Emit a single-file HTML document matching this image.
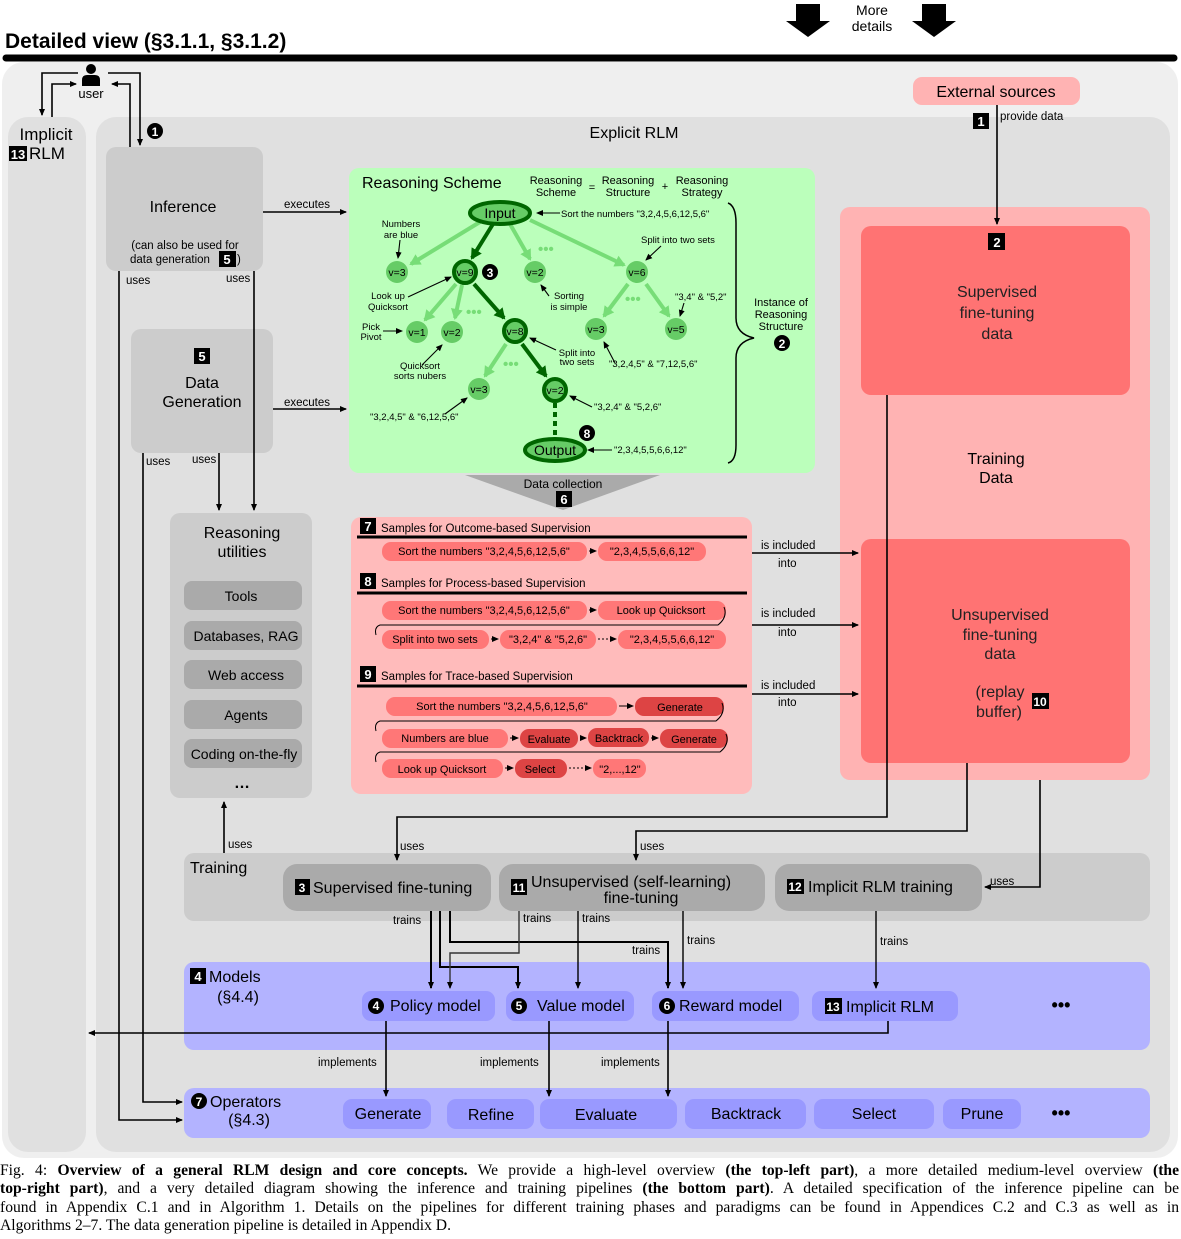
<!DOCTYPE html>
<html><head><meta charset="utf-8"><style>
body{margin:0;width:1181px;height:1239px;background:#fff;overflow:hidden;position:relative;font-family:"Liberation Sans",sans-serif}
svg{position:absolute;left:0;top:0}
.cap{position:absolute;left:0;top:1162px;width:1179px;font-family:"Liberation Serif",serif;font-size:15.6px;line-height:18.3px;color:#000}
.cap div{text-align:justify;text-align-last:justify;white-space:nowrap}
.cap div.l{text-align-last:left}
</style></head><body>
<svg width="1181" height="1160" viewBox="0 0 1181 1160" font-family="Liberation Sans, sans-serif">
<defs>
<marker id="a" markerWidth="8" markerHeight="8" refX="6" refY="4" orient="auto" markerUnits="userSpaceOnUse"><path d="M0,1 L7,4 L0,7 Z" fill="#000"/></marker>
<marker id="g" markerWidth="14" markerHeight="14" refX="9" refY="7" orient="auto" markerUnits="userSpaceOnUse"><path d="M0,1 L11,7 L0,13 Z" fill="#77dd77"/></marker>
<marker id="d" markerWidth="14" markerHeight="14" refX="9" refY="7" orient="auto" markerUnits="userSpaceOnUse"><path d="M0,1 L11,7 L0,13 Z" fill="#006600"/></marker>
</defs>
<text x="5" y="48" font-size="21" font-weight="bold">Detailed view (§3.1.1, §3.1.2)</text>
<path d="M796,4h24v17h10l-22,16l-22,-16h10z"/>
<path d="M922,4h24v17h10l-22,16l-22,-16h10z"/>
<text x="872" y="15" font-size="14" text-anchor="middle">More</text>
<text x="872" y="31" font-size="14" text-anchor="middle">details</text>
<rect x="2" y="62" width="1176" height="1096" rx="22" fill="#efefef"/>
<line x1="6" y1="58" x2="1174" y2="58" stroke="#000" stroke-width="7" stroke-linecap="round"/>
<rect x="8" y="117" width="78" height="1035" rx="20" fill="#e0e0e0"/>
<rect x="96" y="117" width="1074" height="1035" rx="20" fill="#e0e0e0"/>
<text x="46" y="140" font-size="17" text-anchor="middle">Implicit</text>
<rect x="9" y="146" width="18" height="15" fill="#000"/><text x="18" y="159" font-size="13" fill="#fff" text-anchor="middle" font-weight="bold">13</text>
<text x="29" y="159" font-size="17">RLM</text>
<text x="634" y="138" font-size="16" text-anchor="middle">Explicit RLM</text>
<circle cx="91" cy="69" r="5"/><path d="M82,86 v-6 q0,-5 5,-5 h8 q5,0 5,5 v6z"/>
<text x="91" y="98" font-size="13" text-anchor="middle">user</text>
<g stroke="#000" stroke-width="1.6" fill="none">
<path d="M78,73 H42 V115" marker-end="url(#a)"/>
<path d="M52,117 V84 H76" marker-end="url(#a)"/>
<path d="M108,73 H140 V145" marker-end="url(#a)"/>
<path d="M130,147 V84 H112" marker-end="url(#a)"/>
</g>
<circle cx="155" cy="131" r="8"/><text x="155" y="136" font-size="12" fill="#fff" text-anchor="middle" font-weight="bold">1</text>
<rect x="106" y="147" width="157" height="124" rx="10" fill="#cccccc"/>
<text x="183" y="212" font-size="16" text-anchor="middle">Inference</text>
<text x="185" y="249" font-size="11.5" text-anchor="middle">(can also be used for</text>
<text x="130" y="263" font-size="11.5">data generation</text>
<rect x="219" y="251" width="17" height="16" fill="#000"/><text x="227" y="264" font-size="13" fill="#fff" text-anchor="middle" font-weight="bold">5</text>
<text x="237" y="263" font-size="11.5">)</text>
<rect x="131" y="329" width="142" height="124" rx="10" fill="#cccccc"/>
<rect x="194" y="348" width="16" height="16" fill="#000"/><text x="202" y="361" font-size="13" fill="#fff" text-anchor="middle" font-weight="bold">5</text>
<text x="202" y="388" font-size="16" text-anchor="middle">Data</text>
<text x="202" y="407" font-size="16" text-anchor="middle">Generation</text>
<rect x="170" y="513" width="142" height="285" rx="10" fill="#cccccc"/>
<text x="242" y="538" font-size="16" text-anchor="middle">Reasoning</text>
<text x="242" y="557" font-size="16" text-anchor="middle">utilities</text>
<g fill="#aaaaaa"><rect x="184" y="581" width="118" height="29" rx="8"/><rect x="184" y="621" width="118" height="29" rx="8"/><rect x="184" y="660" width="118" height="29" rx="8"/><rect x="184" y="700" width="118" height="29" rx="8"/><rect x="184" y="739" width="118" height="29" rx="8"/></g>
<g font-size="14" text-anchor="middle"><text x="241" y="601">Tools</text><text x="246" y="641">Databases, RAG</text><text x="246" y="680">Web access</text><text x="246" y="720">Agents</text><text x="244" y="759">Coding on-the-fly</text></g>
<text x="242" y="788" font-size="16" text-anchor="middle" font-weight="bold">…</text>
<g stroke="#000" stroke-width="1.6" fill="none">
<path d="M263,212 H346" marker-end="url(#a)"/>
<path d="M273,409 H346" marker-end="url(#a)"/>
<path d="M119,271 V1120 H182" marker-end="url(#a)"/>
<path d="M143,453 V1102 H182" marker-end="url(#a)"/>
<path d="M254,271 V510" marker-end="url(#a)"/>
<path d="M219,453 V510" marker-end="url(#a)"/>
<path d="M224,853 V802" marker-end="url(#a)"/>
</g>
<g font-size="11.5"><text x="284" y="208">executes</text><text x="284" y="406">executes</text><text x="126" y="284">uses</text><text x="226" y="282">uses</text><text x="146" y="465">uses</text><text x="192" y="463">uses</text><text x="228" y="848">uses</text></g>
<rect x="349" y="168" width="466" height="305" rx="10" fill="#bbffbb"/>
<text x="362" y="188" font-size="16">Reasoning Scheme</text>
<g font-size="11" text-anchor="middle"><text x="556" y="184">Reasoning</text><text x="556" y="196">Scheme</text><text x="592" y="191">=</text><text x="628" y="184">Reasoning</text><text x="628" y="196">Structure</text><text x="665" y="190">+</text><text x="702" y="184">Reasoning</text><text x="702" y="196">Strategy</text></g>
<g stroke="#77dd77" stroke-width="4" fill="none">
<line x1="480" y1="222" x2="411" y2="264" marker-end="url(#g)"/>
<line x1="510" y1="224" x2="530" y2="259" marker-end="url(#g)"/>
<line x1="530" y1="220" x2="624" y2="265" marker-end="url(#g)"/>
<line x1="456" y1="284" x2="425" y2="320" marker-end="url(#g)"/>
<line x1="462" y1="285" x2="455" y2="318" marker-end="url(#g)"/>
<line x1="628" y1="284" x2="604" y2="316" marker-end="url(#g)"/>
<line x1="646" y1="284" x2="669" y2="316" marker-end="url(#g)"/>
<line x1="506" y1="344" x2="485" y2="376" marker-end="url(#g)"/>
</g>
<g stroke="#006600" stroke-width="4" fill="none">
<line x1="493" y1="224" x2="472" y2="258" marker-end="url(#d)"/>
<line x1="474" y1="284" x2="504" y2="318" marker-end="url(#d)"/>
<line x1="522" y1="344" x2="546" y2="376" marker-end="url(#d)"/>
<line x1="555" y1="403" x2="555" y2="438" stroke-dasharray="5,4"/>
</g>
<g fill="#77dd77" font-size="15" font-weight="bold"><text x="538" y="254">•••</text><text x="625" y="304">•••</text><text x="466" y="317">•••</text><text x="503" y="369">•••</text></g>
<ellipse cx="500" cy="213" rx="30" ry="11" fill="#66cc66" stroke="#006600" stroke-width="4"/>
<text x="500" y="218" font-size="14" text-anchor="middle">Input</text>
<ellipse cx="555" cy="450" rx="30" ry="11" fill="#66cc66" stroke="#006600" stroke-width="4"/>
<text x="555" y="455" font-size="14" text-anchor="middle">Output</text>
<g fill="#66cc66">
<circle cx="397" cy="272" r="11"/><circle cx="535" cy="272" r="11"/><circle cx="637" cy="272" r="11"/><circle cx="417" cy="332" r="11"/><circle cx="452" cy="332" r="11"/><circle cx="596" cy="329" r="11"/><circle cx="676" cy="329" r="11"/><circle cx="479" cy="389" r="11"/>
<circle cx="465" cy="272" r="11" stroke="#006600" stroke-width="4"/><circle cx="515" cy="331" r="11" stroke="#006600" stroke-width="4"/><circle cx="555" cy="390" r="11" stroke="#006600" stroke-width="4"/>
</g>
<g font-size="10.5" text-anchor="middle">
<text x="397" y="276">v=3</text><text x="465" y="276">v=9</text><text x="535" y="276">v=2</text><text x="637" y="276">v=6</text><text x="417" y="336">v=1</text><text x="452" y="336">v=2</text><text x="515" y="335">v=8</text><text x="596" y="333">v=3</text><text x="676" y="333">v=5</text><text x="479" y="393">v=3</text><text x="555" y="394">v=2</text>
</g>
<g font-size="9.5">
<text x="561" y="217">Sort the numbers "3,2,4,5,6,12,5,6"</text>
<text x="401" y="227" text-anchor="middle">Numbers</text><text x="401" y="238" text-anchor="middle">are blue</text>
<text x="388" y="299" text-anchor="middle">Look up</text><text x="388" y="310" text-anchor="middle">Quicksort</text>
<text x="371" y="330" text-anchor="middle">Pick</text><text x="371" y="340" text-anchor="middle">Pivot</text>
<text x="420" y="369" text-anchor="middle">Quicksort</text><text x="420" y="379" text-anchor="middle">sorts nubers</text>
<text x="370" y="420">"3,2,4,5" &amp; "6,12,5,6"</text>
<text x="569" y="299" text-anchor="middle">Sorting</text><text x="569" y="310" text-anchor="middle">is simple</text>
<text x="641" y="243">Split into two sets</text>
<text x="675" y="300">"3,4" &amp; "5,2"</text>
<text x="609" y="367">"3,2,4,5" &amp; "7,12,5,6"</text>
<text x="577" y="356" text-anchor="middle">Split into</text><text x="577" y="365" text-anchor="middle">two sets</text>
<text x="594" y="410">"3,2,4" &amp; "5,2,6"</text>
<text x="614" y="453">"2,3,4,5,5,6,6,12"</text>
</g>
<g stroke="#000" stroke-width="1.1" fill="none">
<line x1="560" y1="213" x2="537" y2="213" marker-end="url(#a)"/>
<line x1="400" y1="240" x2="398" y2="258" marker-end="url(#a)"/>
<line x1="408" y1="297" x2="451" y2="277" marker-end="url(#a)"/>
<line x1="383" y1="331" x2="402" y2="331" marker-end="url(#a)"/>
<line x1="422" y1="365" x2="442" y2="345" marker-end="url(#a)"/>
<line x1="445" y1="414" x2="467" y2="398" marker-end="url(#a)"/>
<line x1="549" y1="296" x2="541" y2="285" marker-end="url(#a)"/>
<line x1="661" y1="246" x2="646" y2="260" marker-end="url(#a)"/>
<line x1="684" y1="303" x2="680" y2="316" marker-end="url(#a)"/>
<line x1="615" y1="363" x2="604" y2="342" marker-end="url(#a)"/>
<line x1="556" y1="350" x2="530" y2="338" marker-end="url(#a)"/>
<line x1="592" y1="407" x2="570" y2="396" marker-end="url(#a)"/>
<line x1="612" y1="450" x2="588" y2="450" marker-end="url(#a)"/>
<path d="M728,203 q8,3 8,20 V318 q0,16 18,20 q-18,4 -18,20 V445 q0,16 -8,18" stroke-width="1.5"/>
</g>
<g font-size="11" text-anchor="middle"><text x="781" y="306">Instance of</text><text x="781" y="318">Reasoning</text><text x="781" y="330">Structure</text></g>
<circle cx="782" cy="343" r="8"/><text x="782" y="348" font-size="12" fill="#fff" text-anchor="middle" font-weight="bold">2</text>
<circle cx="490" cy="272" r="8"/><text x="490" y="277" font-size="12" fill="#fff" text-anchor="middle" font-weight="bold">3</text>
<circle cx="587" cy="433" r="8"/><text x="587" y="438" font-size="12" fill="#fff" text-anchor="middle" font-weight="bold">8</text>
<path d="M465,475 H660 L563,510 Z" fill="#aaaaaa"/>
<text x="563" y="488" font-size="12" text-anchor="middle">Data collection</text>
<rect x="556" y="491" width="16" height="16" fill="#000"/><text x="564" y="504" font-size="13" fill="#fff" text-anchor="middle" font-weight="bold">6</text>
<rect x="840" y="207" width="310" height="573" rx="10" fill="#ffb3b3"/>
<rect x="861" y="226" width="269" height="169" rx="10" fill="#ff7373"/>
<rect x="861" y="539" width="269" height="224" rx="10" fill="#ff7373"/>
<rect x="988" y="233" width="17" height="17" fill="#000"/><text x="997" y="247" font-size="13" fill="#fff" text-anchor="middle" font-weight="bold">2</text>
<g font-size="16" text-anchor="middle" fill="#222"><text x="997" y="297">Supervised</text><text x="997" y="318">fine-tuning</text><text x="997" y="339">data</text>
<text x="996" y="464" fill="#000">Training</text><text x="996" y="483" fill="#000">Data</text>
<text x="1000" y="620">Unsupervised</text><text x="1000" y="640">fine-tuning</text><text x="1000" y="659">data</text>
<text x="1000" y="697">(replay</text><text x="999" y="717">buffer)</text></g>
<rect x="1032" y="693" width="17" height="16" fill="#000"/><text x="1040" y="706" font-size="12" fill="#fff" text-anchor="middle" font-weight="bold">10</text>
<rect x="913" y="77" width="167" height="28" rx="9" fill="#ffb3b3"/>
<text x="996" y="97" font-size="16" text-anchor="middle">External sources</text>
<rect x="973" y="113" width="16" height="16" fill="#000"/><text x="981" y="126" font-size="13" fill="#fff" text-anchor="middle" font-weight="bold">1</text>
<text x="1000" y="120" font-size="11.5">provide data</text>
<line x1="997" y1="105" x2="997" y2="224" stroke="#000" stroke-width="1.6" marker-end="url(#a)"/>
<rect x="351" y="517" width="401" height="277" rx="10" fill="#ffbbbb"/>
<g fill="#000"><rect x="360" y="518" width="16" height="16"/><rect x="360" y="573" width="16" height="16"/><rect x="360" y="666" width="16" height="16"/></g>
<g font-size="13" fill="#fff" text-anchor="middle" font-weight="bold"><text x="368" y="531">7</text><text x="368" y="586">8</text><text x="368" y="679">9</text></g>
<g font-size="11.5"><text x="381" y="532">Samples for Outcome-based Supervision</text><text x="381" y="587">Samples for Process-based Supervision</text><text x="381" y="680">Samples for Trace-based Supervision</text></g>
<g stroke="#000" stroke-width="3"><line x1="357" y1="537" x2="747" y2="537"/><line x1="357" y1="593" x2="747" y2="593"/><line x1="357" y1="686" x2="747" y2="686"/></g>
<g fill="#ff7777">
<rect x="382" y="542" width="205" height="19" rx="9"/><rect x="598" y="542" width="108" height="19" rx="9"/>
<rect x="382" y="601" width="205" height="19" rx="9"/><rect x="598" y="601" width="128" height="19" rx="9"/>
<rect x="382" y="630" width="107" height="19" rx="9"/><rect x="500" y="630" width="96" height="19" rx="9"/><rect x="618" y="630" width="108" height="19" rx="9"/>
<rect x="386" y="697" width="231" height="19" rx="9"/>
<rect x="382" y="729" width="126" height="19" rx="9"/>
<rect x="382" y="759" width="121" height="19" rx="9"/><rect x="593" y="759" width="53" height="19" rx="9"/>
</g>
<g fill="#dd4444">
<rect x="635" y="697" width="89" height="19" rx="9"/>
<rect x="520" y="729" width="58" height="19" rx="9"/><rect x="588" y="728" width="61" height="19" rx="9"/><rect x="660" y="729" width="68" height="19" rx="9"/>
<rect x="515" y="759" width="52" height="19" rx="9"/>
</g>
<g font-size="11" text-anchor="middle">
<text x="484" y="555">Sort the numbers "3,2,4,5,6,12,5,6"</text><text x="652" y="555">"2,3,4,5,5,6,6,12"</text>
<text x="484" y="614">Sort the numbers "3,2,4,5,6,12,5,6"</text><text x="661" y="614">Look up Quicksort</text>
<text x="435" y="643">Split into two sets</text><text x="548" y="643">"3,2,4" &amp; "5,2,6"</text><text x="672" y="643">"2,3,4,5,5,6,6,12"</text>
<text x="502" y="710">Sort the numbers "3,2,4,5,6,12,5,6"</text><text x="680" y="711">Generate</text>
<text x="445" y="742">Numbers are blue</text><text x="549" y="743">Evaluate</text><text x="619" y="742">Backtrack</text><text x="694" y="743">Generate</text>
<text x="442" y="773">Look up Quicksort</text><text x="540" y="773">Select</text><text x="620" y="773">"2,...,12"</text>
</g>
<g stroke="#000" stroke-width="1" fill="none">
<line x1="589" y1="551" x2="596" y2="551" marker-end="url(#a)"/>
<line x1="589" y1="610" x2="596" y2="610" marker-end="url(#a)"/>
<line x1="491" y1="639" x2="498" y2="639" marker-end="url(#a)"/>
<line x1="598" y1="639" x2="616" y2="639" stroke-dasharray="2,2" marker-end="url(#a)"/>
<line x1="619" y1="706" x2="633" y2="706" marker-end="url(#a)"/>
<line x1="510" y1="738" x2="518" y2="738" marker-end="url(#a)"/>
<line x1="580" y1="738" x2="586" y2="738" marker-end="url(#a)"/>
<line x1="651" y1="738" x2="658" y2="738" marker-end="url(#a)"/>
<line x1="505" y1="768" x2="513" y2="768" marker-end="url(#a)"/>
<line x1="569" y1="768" x2="591" y2="768" stroke-dasharray="2,2" marker-end="url(#a)"/>
<path d="M724,607 q4,10 -6,18 H380 q-6,2 -4,10"/>
<path d="M722,703 q4,10 -6,18 H380 q-6,2 -4,10"/>
<path d="M726,734 q4,10 -6,18 H380 q-6,2 -4,10"/>
</g>
<g stroke="#000" stroke-width="1.6"><line x1="752" y1="553" x2="858" y2="553" marker-end="url(#a)"/><line x1="752" y1="625" x2="858" y2="625" marker-end="url(#a)"/><line x1="752" y1="694" x2="858" y2="694" marker-end="url(#a)"/></g>
<g font-size="11.5"><text x="761" y="549">is included</text><text x="778" y="567">into</text><text x="761" y="617">is included</text><text x="778" y="636">into</text><text x="761" y="689">is included</text><text x="778" y="706">into</text></g>
<rect x="184" y="853" width="966" height="68" rx="10" fill="#cccccc"/>
<text x="190" y="873" font-size="16">Training</text>
<rect x="283" y="864" width="208" height="47" rx="14" fill="#aaaaaa"/>
<rect x="499" y="864" width="266" height="47" rx="14" fill="#aaaaaa"/>
<rect x="775" y="864" width="207" height="47" rx="14" fill="#aaaaaa"/>
<g fill="#000"><rect x="295" y="879" width="15" height="16"/><rect x="511" y="879" width="16" height="16"/><rect x="787" y="879" width="17" height="15"/></g>
<g font-size="12" fill="#fff" text-anchor="middle" font-weight="bold"><text x="302" y="892">3</text><text x="519" y="892">11</text><text x="795" y="891">12</text></g>
<g font-size="16"><text x="313" y="893">Supervised fine-tuning</text><text x="531" y="887">Unsupervised (self-learning)</text><text x="641" y="903" text-anchor="middle">fine-tuning</text><text x="808" y="892">Implicit RLM training</text></g>
<g stroke="#000" stroke-width="1.6" fill="none">
<path d="M887,395 V817 H397 V860" marker-end="url(#a)"/>
<path d="M967,763 V831 H636 V860" marker-end="url(#a)"/>
<path d="M1040,780 V887 H985" marker-end="url(#a)"/>
</g>
<g font-size="11.5"><text x="400" y="850">uses</text><text x="640" y="850">uses</text><text x="990" y="885">uses</text></g>
<rect x="184" y="962" width="966" height="88" rx="10" fill="#b3b3ff"/>
<rect x="190" y="968" width="16" height="16" fill="#000"/><text x="198" y="981" font-size="13" fill="#fff" text-anchor="middle" font-weight="bold">4</text>
<text x="209" y="982" font-size="16">Models</text><text x="238" y="1002" font-size="16" text-anchor="middle">(§4.4)</text>
<g fill="#9999ff"><rect x="362" y="991" width="133" height="30" rx="9"/><rect x="506" y="991" width="128" height="30" rx="9"/><rect x="652" y="991" width="147" height="30" rx="9"/><rect x="812" y="991" width="146" height="30" rx="9"/></g>
<g fill="#000"><circle cx="376" cy="1006" r="8"/><circle cx="519" cy="1006" r="8"/><circle cx="667" cy="1006" r="8"/><rect x="825" y="998" width="17" height="16"/></g>
<g font-size="12" fill="#fff" text-anchor="middle" font-weight="bold"><text x="376" y="1010">4</text><text x="519" y="1010">5</text><text x="667" y="1010">6</text><text x="833" y="1011">13</text></g>
<g font-size="16"><text x="390" y="1011">Policy model</text><text x="537" y="1011">Value model</text><text x="679" y="1011">Reward model</text><text x="846" y="1012">Implicit RLM</text></g>
<text x="1061" y="1011" font-size="18" text-anchor="middle" font-weight="bold">•••</text>
<g stroke="#000" stroke-width="2" fill="none">
<path d="M431,911 V988" marker-end="url(#a)"/>
<path d="M440,911 V967 H518 V988" marker-end="url(#a)"/>
<path d="M450,911 V942 H668 V988" marker-end="url(#a)"/>
<path d="M519,911 V953 H450 V988" stroke="#333" stroke-width="1.4" marker-end="url(#a)"/>
<path d="M578,911 V988" stroke-width="1.4" marker-end="url(#a)"/>
<path d="M683,911 V988" stroke-width="1.4" marker-end="url(#a)"/>
<path d="M876,911 V988" stroke-width="1.4" marker-end="url(#a)"/>
<path d="M888,1021 V1033 H89" stroke-width="1.6" marker-end="url(#a)"/>
</g>
<g font-size="11.5"><text x="393" y="924">trains</text><text x="523" y="922">trains</text><text x="582" y="922">trains</text><text x="632" y="954">trains</text><text x="687" y="944">trains</text><text x="880" y="945">trains</text>
<text x="318" y="1066">implements</text><text x="480" y="1066">implements</text><text x="601" y="1066">implements</text></g>
<rect x="184" y="1088" width="966" height="50" rx="10" fill="#b3b3ff"/>
<circle cx="199" cy="1101" r="8"/><text x="199" y="1106" font-size="12" fill="#fff" text-anchor="middle" font-weight="bold">7</text>
<text x="210" y="1107" font-size="16">Operators</text><text x="249" y="1125" font-size="16" text-anchor="middle">(§4.3)</text>
<g fill="#9999ff"><rect x="343" y="1099" width="88" height="30" rx="9"/><rect x="447" y="1099" width="87" height="30" rx="9"/><rect x="540" y="1099" width="137" height="30" rx="9"/><rect x="685" y="1099" width="121" height="30" rx="9"/><rect x="814" y="1099" width="120" height="30" rx="9"/><rect x="943" y="1099" width="78" height="30" rx="9"/></g>
<g stroke="#000" stroke-width="1.6" fill="none">
<path d="M386,1021 V1096" marker-end="url(#a)"/>
<path d="M549,1021 V1096" marker-end="url(#a)"/>
<path d="M668,1021 V1096" marker-end="url(#a)"/>
</g>
<g font-size="16" text-anchor="middle"><text x="388" y="1119">Generate</text><text x="491" y="1120">Refine</text><text x="606" y="1120">Evaluate</text><text x="746" y="1119">Backtrack</text><text x="874" y="1119">Select</text><text x="982" y="1119">Prune</text></g>
<text x="1061" y="1119" font-size="18" text-anchor="middle" font-weight="bold">•••</text>
</svg>
<div class="cap">
<div>Fig. 4: <b>Overview of a general RLM design and core concepts.</b> We provide a high-level overview <b>(the top-left part)</b>, a more detailed medium-level overview <b>(the</b></div>
<div><b>top-right part)</b>, and a very detailed diagram showing the inference and training pipelines <b>(the bottom part)</b>. A detailed specification of the inference pipeline can be</div>
<div>found in Appendix C.1 and in Algorithm 1. Details on the pipelines for different training phases and paradigms can be found in Appendices C.2 and C.3 as well as in</div>
<div class="l">Algorithms 2–7. The data generation pipeline is detailed in Appendix D.</div>
</div>
</body></html>
